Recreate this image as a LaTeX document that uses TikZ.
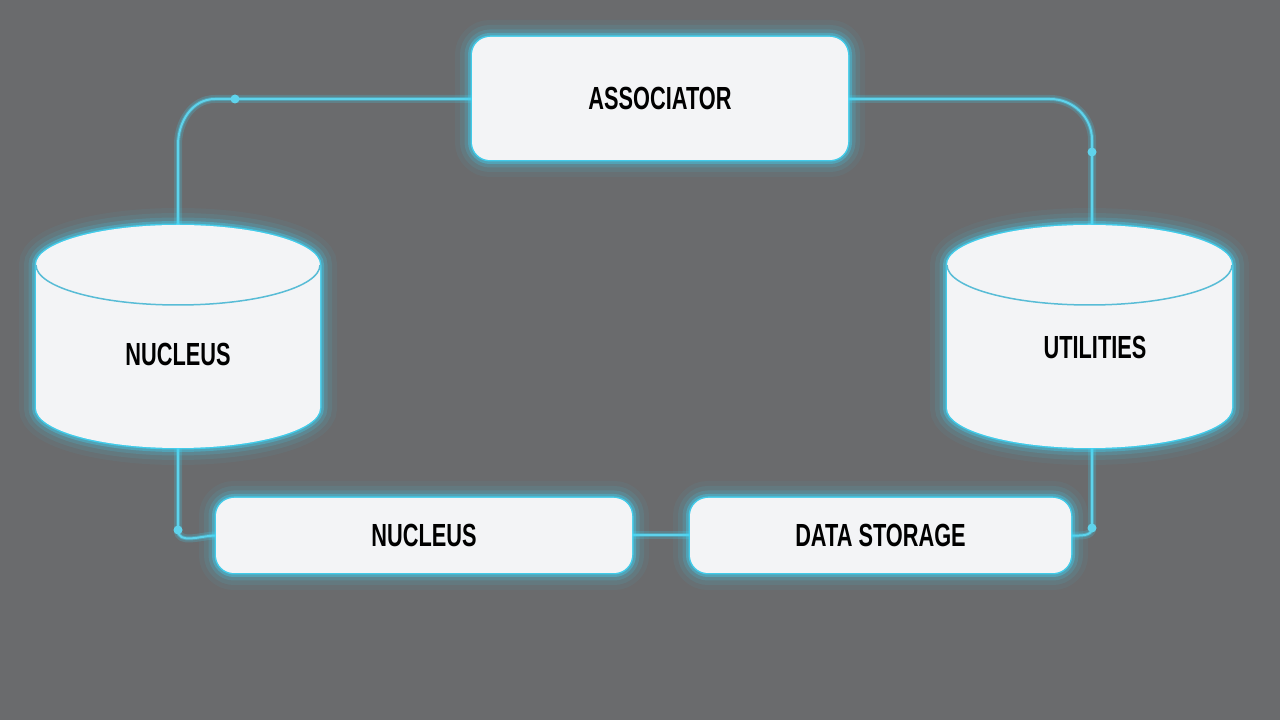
\documentclass[tikz,border=0pt]{standalone}
\usepackage{fontspec}
\setmainfont{Liberation Sans}[FakeStretch=0.68]
\begin{document}
\begin{tikzpicture}[x=1pt,y=1pt,
  glow/.style={preaction={draw=glowc,line width=34pt,opacity=0.05},
               preaction={draw=glowc,line width=24pt,opacity=0.09},
               preaction={draw=glowc,line width=15pt,opacity=0.16},
               preaction={draw=glowc,line width=8pt,opacity=0.35},
               preaction={draw=glowc,line width=3pt,opacity=0.8}},
  boxst/.style={glow,fill=boxc,rounded corners=18pt,inner sep=0pt,font=\fontsize{32}{32}\selectfont\bfseries,text=black},
  lab/.style={font=\fontsize{32}{32}\selectfont\bfseries,text=black},
  wire/.style={draw=wirec,line width=2pt,preaction={draw=glowc,line width=8pt,opacity=0.2},preaction={draw=glowc,line width=4pt,opacity=0.35}},
  dot/.style={circle,fill=wirec,inner sep=0pt,minimum size=9pt}]
\definecolor{bg}{HTML}{6A6B6D}
\definecolor{glowc}{HTML}{3FD6F7}
\definecolor{boxc}{HTML}{F3F4F6}
\definecolor{wirec}{HTML}{5FD3EC}
\definecolor{rimc}{HTML}{58BCD6}
\fill[bg] (0,0) rectangle (1280,720);
\useasboundingbox (0,0) rectangle (1280,720);
\coordinate (la) at (235,621);
\coordinate (rd) at (1092,568);
\coordinate (lb) at (178,190);
\coordinate (rb) at (1092,192);
\draw[wire] (472,621) -- (la) -- (215,621) to[out=180,in=90] (178,575) -- (178,495);
\draw[wire] (848,621) -- (1050,621) to[out=0,in=90] (1092,580) -- (1092,495);
\draw[wire] (178,272) -- (lb) to[out=-90,in=180] (216,184.5);
\draw[wire] (1092,272) -- (rb) to[out=-90,in=0] (1071,184.5);
\draw[wire] (632,184.5) -- (690,184.5);
\node[boxst,minimum width=376pt,minimum height=123pt] (assoc) at (660,621.5) {ASSOCIATOR};
\node[boxst,minimum width=416pt,minimum height=75pt] (nuc2) at (424,184.5) {NUCLEUS};
\node[boxst,minimum width=381pt,minimum height=75pt] (data) at (880.5,184.5) {DATA STORAGE};
\node[dot] at (la) {};
\node[dot] at (rd) {};
\node[dot] at (lb) {};
\node[dot] at (rb) {};
\path[glow,fill=boxc] (36,455) -- (36,312) arc (180:360:142 and 40) -- (320,455) arc (0:180:142 and 40) -- cycle;
\draw[rimc,line width=1.5pt] (36,455) arc (180:360:142 and 40);
\node[lab] (nuc1) at (178,366) {NUCLEUS};
\path[glow,fill=boxc] (947,455) -- (947,312) arc (180:360:142.5 and 40) -- (1232,455) arc (0:180:142.5 and 40) -- cycle;
\draw[rimc,line width=1.5pt] (947,455) arc (180:360:142.5 and 40);
\node[lab] (util) at (1095,373) {UTILITIES};
\end{tikzpicture}
\end{document}
